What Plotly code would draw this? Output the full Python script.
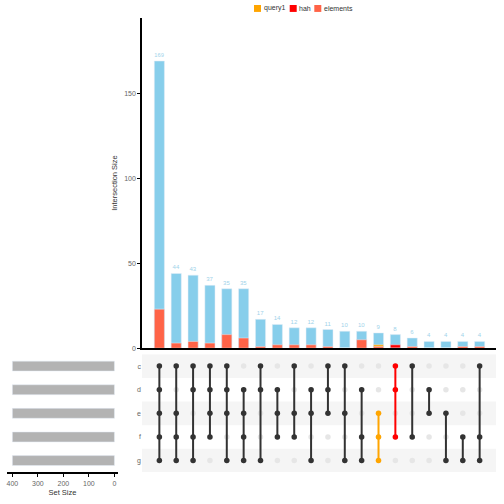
import plotly.graph_objects as go

# sets, top to bottom in the matrix
sets = ["c", "d", "e", "f", "g"]
set_sizes = [400, 400, 400, 400, 400]

# intersections, in bar order
combos = ["cdefg", "cefg", "cdfg", "cdef", "cdeg", "defg", "cdg", "def", "cef", "deg",
          "cde", "ceg", "dfg", "efg", "cdf", "cf", "de", "eg", "fg", "cfg"]
counts = [169, 44, 43, 37, 35, 35, 17, 14, 12, 12, 11, 10, 10, 9, 8, 6, 4, 4, 4, 4]

# query overlays
elements = [23, 3, 4, 3, 8, 6, 1, 2, 2, 2, 1, 0, 5, 1, 0, 1, 0, 0, 1, 1]
query1 = [0, 0, 0, 0, 0, 0, 0, 0, 0, 0, 0, 0, 0, 2, 0, 0, 0, 0, 0, 0]
hah = [0, 0, 0, 0, 0, 0, 0, 0, 0, 0, 0, 0, 0, 0, 2, 0, 0, 0, 0, 0]
highlight = {"efg": "orange", "cdf": "red"}

legend_names = ["query1", "hah", "elements"]
legend_colors = ["orange", "red", "tomato"]

FONT = "Liberation Sans, Arial, sans-serif"
W = 504.0

def fx(px):
    return px / W

def fy(px):
    return 1 - px / W

cols = list(range(len(combos)))
row_of = {s: len(sets) - 1 - i for i, s in enumerate(sets)}

fig = go.Figure()

# intersection bars
fig.add_trace(go.Bar(x=cols, y=counts, marker_color="#87CEEB", width=0.6,
                     text=counts, textposition="outside", cliponaxis=False,
                     textfont=dict(size=6, color="#9fd3ea", family=FONT),
                     showlegend=False, hoverinfo="y", xaxis="x", yaxis="y"))
for vals, name, col in zip([query1, hah, elements], legend_names, legend_colors):
    fig.add_trace(go.Bar(x=cols, y=vals, marker_color=col, width=0.6, name=name,
                         showlegend=False, xaxis="x", yaxis="y"))

# matrix: background dots
bx, by = [], []
for c in cols:
    for s in sets:
        bx.append(c)
        by.append(row_of[s])
fig.add_trace(go.Scatter(x=bx, y=by, mode="markers", marker=dict(size=5.5, color="#e6e6e6"),
                         showlegend=False, hoverinfo="skip", xaxis="x2", yaxis="y2"))

# matrix: connecting lines and filled dots
by_color = {}
for c, combo in zip(cols, combos):
    col = highlight.get(combo, "#333333")
    rows = [row_of[s] for s in combo]
    d = by_color.setdefault(col, dict(lx=[], ly=[], px=[], py=[]))
    d["lx"] += [c, c, None]
    d["ly"] += [min(rows), max(rows), None]
    d["px"] += [c] * len(rows)
    d["py"] += rows
for col, d in by_color.items():
    fig.add_trace(go.Scatter(x=d["lx"], y=d["ly"], mode="lines", line=dict(color=col, width=2),
                             showlegend=False, hoverinfo="skip", xaxis="x2", yaxis="y2"))
    fig.add_trace(go.Scatter(x=d["px"], y=d["py"], mode="markers",
                             marker=dict(size=5.5, color=col),
                             showlegend=False, hoverinfo="skip", xaxis="x2", yaxis="y2"))

# set size bars
fig.add_trace(go.Bar(x=set_sizes, y=[row_of[s] for s in sets], orientation="h",
                     marker_color="#b3b3b3", width=0.42, showlegend=False,
                     xaxis="x3", yaxis="y3"))

# row stripes
shapes = []
for i, s in enumerate(sets):
    if i % 2 == 0:
        r = row_of[s]
        shapes.append(dict(type="rect", xref="x2 domain", yref="y2", x0=0, x1=1,
                           y0=r - 0.5, y1=r + 0.5, fillcolor="#f5f5f5", line_width=0,
                           layer="below"))

# compact legend at the top
annotations = []
lx = 254
for name, col in zip(legend_names, legend_colors):
    shapes.append(dict(type="rect", xref="paper", yref="paper", x0=fx(lx), x1=fx(lx + 7),
                       y0=fy(12), y1=fy(5), fillcolor=col, line_width=0))
    annotations.append(dict(text=name, xref="paper", yref="paper", x=fx(lx + 7.5), y=fy(8.5),
                            xanchor="left", yanchor="middle", showarrow=False,
                            font=dict(size=7, color="#333333", family=FONT)))
    lx += 8.5 + len(name) * 3.7 + 5

tick_font = dict(size=7, color="#666666", family=FONT)
xdom = [fx(142), fx(496)]
mdom = [fy(475.2), fy(356.4)]

fig.update_layout(
    width=504, height=504,
    margin=dict(l=0, r=0, t=0, b=0),
    paper_bgcolor="white", plot_bgcolor="rgba(0,0,0,0)",
    barmode="overlay", showlegend=False,
    font=dict(family=FONT, size=7, color="#333333"),
    shapes=shapes, annotations=annotations,
    xaxis=dict(domain=xdom, range=[-1.03, 19.97], showticklabels=False, ticks="",
               showgrid=False, zeroline=False, showline=True, linecolor="black",
               linewidth=1.5, anchor="y"),
    yaxis=dict(domain=[fy(350.3), fy(18)], range=[0, 194.4], showgrid=False,
               zeroline=False, showline=True, linecolor="black", linewidth=1.5,
               ticks="outside", ticklen=3, tickcolor="black", tickvals=[0, 50, 100, 150],
               tickfont=tick_font, anchor="x",
               title=dict(text="Intersection Size", font=dict(size=7.5, color="#333333"),
                          standoff=6)),
    xaxis2=dict(domain=xdom, range=[-1.03, 19.97], visible=False, anchor="y2"),
    yaxis2=dict(domain=mdom, range=[-0.5, 4.5], showgrid=False, zeroline=False,
                tickvals=[row_of[s] for s in sets], ticktext=sets, ticks="",
                tickfont=tick_font, anchor="x2", showline=False),
    xaxis3=dict(domain=[fx(7), fx(118)], range=[421, -14], showgrid=False, zeroline=False,
                showline=True, linecolor="black", linewidth=1.5, ticks="outside",
                ticklen=3, tickcolor="black", tickvals=[400, 300, 200, 100, 0],
                tickfont=tick_font, anchor="y3", side="bottom",
                title=dict(text="Set Size", font=dict(size=7.5, color="#333333"), standoff=4)),
    yaxis3=dict(domain=mdom, range=[-0.5, 4.5], visible=False, anchor="x3"),
)

fig.write_html("out.html", config={"displayModeBar": False},
               post_script="document.body.style.margin='0px';")
